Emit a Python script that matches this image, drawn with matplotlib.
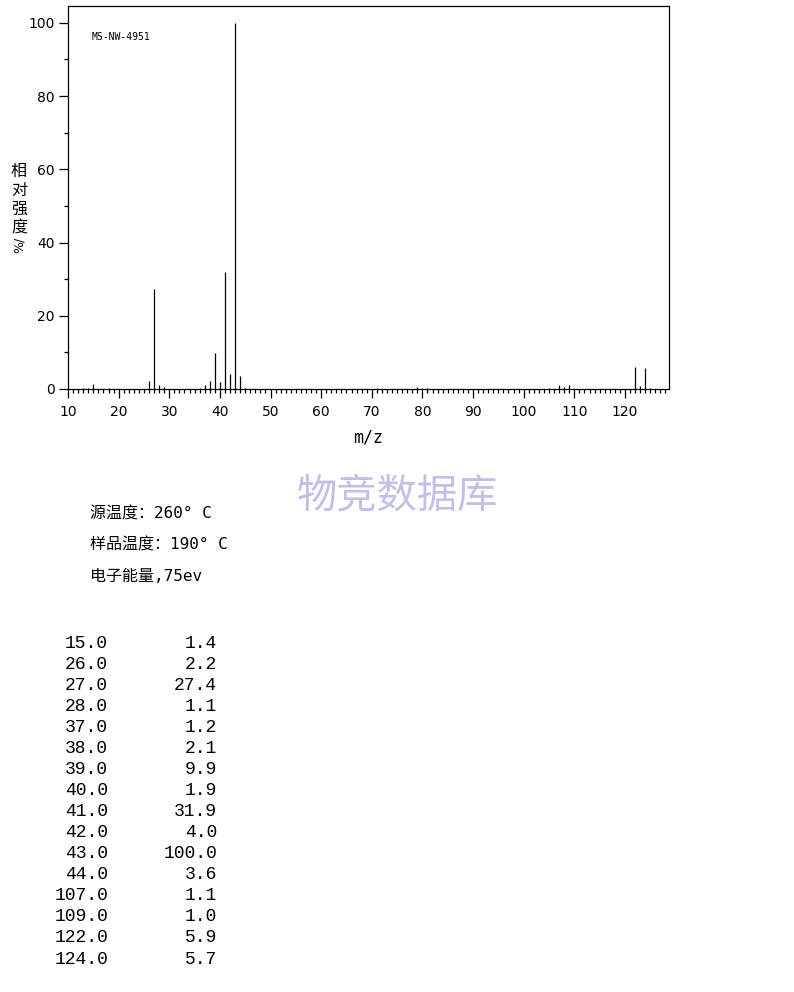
import matplotlib

matplotlib.use("Agg")

import matplotlib.pyplot as plt
from matplotlib.ticker import MultipleLocator

# peaks (m/z, relative intensity %)
MZ = [13, 14, 15, 18, 26, 27, 28, 29, 36, 37, 38, 39, 40, 41, 42, 43, 44, 45,
      71, 79, 80, 81, 105, 107, 108, 109, 122, 123, 124, 125]
INTENSITY = [0.3, 0.4, 1.4, 0.3, 2.2, 27.4, 1.1, 0.5, 0.4, 1.2, 2.1, 9.9, 1.9, 31.9,
             4.0, 100.0, 3.6, 0.4, 0.3, 0.5, 0.4, 0.3, 0.3, 1.1, 0.5, 1.0, 5.9, 0.7,
             5.7, 0.3]

SAMPLE_ID = "MS-NW-4951"
CONDITIONS = ["源温度：260° C", "样品温度：190° C", "电子能量,75ev"]
YLABEL_CHARS = ["相", "对", "强", "度"]
WATERMARK = "物竞数据库"

W, H = 794, 992
CJK = ["Noto Sans CJK SC", "DejaVu Sans"]
MONO_CJK = ["DejaVu Sans Mono", "Noto Sans CJK SC"]


def fx(px):
    return px / W


def fy(py):
    return 1 - py / H


fig = plt.figure(figsize=(W / 100, H / 100), dpi=100)
ax = fig.add_axes([fx(68), fy(389), fx(669) - fx(68), fy(6) - fy(389)])

ax.vlines(MZ, 0, INTENSITY, color="black", linewidth=0.9)
ax.set_xlim(10, 128.7)
ax.set_ylim(0, 104.6)

ax.xaxis.set_major_locator(MultipleLocator(10))
ax.xaxis.set_minor_locator(MultipleLocator(1))
ax.yaxis.set_major_locator(MultipleLocator(20))
ax.yaxis.set_minor_locator(MultipleLocator(10))
ax.tick_params(axis="both", which="major", length=6.5, width=0.9, labelsize=10,
               direction="out", color="black")
ax.tick_params(axis="both", which="minor", length=3, width=0.9, direction="out")
ax.tick_params(axis="x", which="major", pad=5)
ax.tick_params(axis="y", which="major", pad=3)
for s in ax.spines.values():
    s.set_linewidth(0.9)

ax.text(0.04, 0.919, SAMPLE_ID, transform=ax.transAxes, fontsize=7,
        family="DejaVu Sans Mono", ha="left", va="center")

fig.text(fx(368), fy(437), "m/z", fontsize=12, family="DejaVu Sans Mono",
         ha="center", va="center")

for i, ch in enumerate(YLABEL_CHARS):
    fig.text(fx(19), fy(171 + 19 * i), ch, fontsize=11.5, family=CJK,
             ha="center", va="center")
fig.text(fx(19), fy(245), "%/", fontsize=9, rotation=90, ha="center", va="center")

fig.text(fx(397), fy(496), WATERMARK, fontsize=29, family=CJK, color="#c0c0e8",
         ha="center", va="center")

for i, line in enumerate(CONDITIONS):
    fig.text(fx(90), fy(514 + 31 * i), line, fontsize=11.5, family=MONO_CJK,
             ha="left", va="center")

rows = [(m, v) for m, v in zip(MZ, INTENSITY) if v >= 1.0]
for i, (m, v) in enumerate(rows):
    y = fy(643 + 21.07 * i)
    fig.text(fx(108), y, f"{m:.1f}", family="Liberation Mono", fontsize=13,
             ha="right", va="center")
    fig.text(fx(217), y, f"{v:.1f}", family="Liberation Mono", fontsize=13,
             ha="right", va="center")

fig.savefig("out.png", dpi=100)
